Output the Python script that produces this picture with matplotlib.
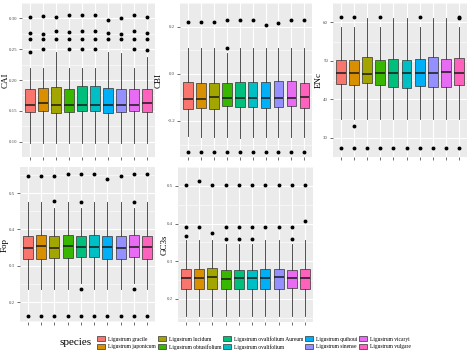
import matplotlib.pyplot as plt
from matplotlib.patches import Patch

species = ["Ligustrum gracile", "Ligustrum japonicum", "Ligustrum lucidum",
           "Ligustrum obtusifolium", "Ligustrum ovalifolium Aureum",
           "Ligustrum ovalifolium", "Ligustrum quihoui", "Ligustrum sinense",
           "Ligustrum vicaryi", "Ligustrum vulgare"]
colors = ["#F8766D", "#D89000", "#A3A500", "#39B600", "#00BF7D",
          "#00BFC4", "#00B0F6", "#9590FF", "#E76BF3", "#FF62BC"]

# ---- CAI
cai_q1 = [0.1486, 0.149, 0.147, 0.148, 0.1495, 0.1495, 0.147, 0.148, 0.1495, 0.148]
cai_med = [0.160, 0.162, 0.160, 0.160, 0.160, 0.160, 0.160, 0.160, 0.160, 0.162]
cai_q3 = [0.186, 0.187, 0.188, 0.186, 0.190, 0.190, 0.187, 0.186, 0.186, 0.186]
cai_lo = [0.098] * 10
cai_hi = [0.2195, 0.2195, 0.245, 0.2195, 0.2195, 0.2195, 0.245, 0.244, 0.2195, 0.237]
cai_out = [[0.303, 0.277, 0.266, 0.246], [0.304, 0.274, 0.266, 0.250],
           [0.303, 0.279, 0.266], [0.306, 0.278, 0.266, 0.250],
           [0.306, 0.279, 0.266, 0.251], [0.306, 0.279, 0.266, 0.251],
           [0.297, 0.276, 0.266], [0.300, 0.274, 0.266],
           [0.306, 0.279, 0.266, 0.251], [0.303, 0.277, 0.266, 0.2495]]

# ---- CBI
cbi_q1 = [-0.148, -0.145, -0.148, -0.137, -0.140, -0.140, -0.145, -0.139, -0.137, -0.144]
cbi_med = [-0.108, -0.106, -0.097, -0.103, -0.101, -0.101, -0.103, -0.103, -0.101, -0.098]
cbi_q3 = [-0.033, -0.041, -0.041, -0.041, -0.033, -0.033, -0.035, -0.030, -0.031, -0.037]
cbi_lo = [-0.264, -0.268, -0.268, -0.268, -0.272, -0.268, -0.268, -0.268, -0.268, -0.268]
cbi_hi = [0.108, 0.108, 0.108, 0.088, 0.108, 0.108, 0.108, 0.108, 0.108, 0.108]
cbi_out = [[0.220, -0.333], [0.221, -0.333], [0.221, -0.333],
           [0.108, 0.226, -0.333], [0.226, -0.333], [0.226, -0.333],
           [0.205, -0.333], [0.216, -0.333], [0.226, -0.333], [0.226, -0.333]]

# ---- ENc
enc_q1 = [43.9, 43.6, 44.3, 43.6, 43.2, 42.9, 43.4, 43.1, 43.2, 43.8]
enc_med = [46.8, 46.8, 46.5, 46.8, 46.9, 46.9, 46.8, 46.9, 47.2, 46.8]
enc_q3 = [50.3, 50.1, 50.9, 50.2, 50.5, 50.2, 50.5, 50.9, 50.5, 50.6]
enc_lo = [34.8] * 10
enc_hi = [58.7, 58.7, 61.0, 58.7, 61.0, 61.0, 58.7, 61.0, 61.0, 58.7]
enc_out = [[61.4, 27.3], [61.4, 33.0, 27.3], [27.3], [61.4, 27.3], [27.3],
           [27.3], [61.4, 27.3], [27.3], [27.3], [61.4, 61.0, 27.3]]

# ---- Fop
fop_q1 = [0.318, 0.318, 0.321, 0.321, 0.324, 0.3245, 0.320, 0.320, 0.325, 0.318]
fop_med = [0.348, 0.355, 0.350, 0.3545, 0.353, 0.353, 0.353, 0.350, 0.352, 0.353]
fop_q3 = [0.382, 0.384, 0.383, 0.384, 0.382, 0.386, 0.383, 0.382, 0.386, 0.382]
fop_lo = [0.237, 0.237, 0.237, 0.237, 0.253, 0.237, 0.237, 0.237, 0.253, 0.237]
fop_hi = [0.4745, 0.4745, 0.460, 0.4745, 0.460, 0.4745, 0.4745, 0.4745, 0.460, 0.4745]
fop_out = [[0.548, 0.163], [0.548, 0.163], [0.478, 0.548, 0.163], [0.551, 0.163],
           [0.475, 0.551, 0.236, 0.163], [0.551, 0.163], [0.539, 0.163],
           [0.547, 0.163], [0.475, 0.551, 0.237, 0.163], [0.551, 0.163]]

# ---- GC3s
gc3_q1 = [0.226, 0.226, 0.227, 0.227, 0.226, 0.226, 0.226, 0.226, 0.2275, 0.226]
gc3_med = [0.256, 0.256, 0.258, 0.252, 0.254, 0.256, 0.256, 0.257, 0.256, 0.256]
gc3_q3 = [0.279, 0.279, 0.282, 0.277, 0.276, 0.277, 0.280, 0.279, 0.277, 0.279]
gc3_lo = [0.153] * 10
gc3_hi = [0.355, 0.355, 0.356, 0.345, 0.345, 0.345, 0.355, 0.355, 0.345, 0.355]
gc3_out = [[0.502, 0.392, 0.366], [0.513, 0.392], [0.502, 0.374],
           [0.502, 0.392, 0.358], [0.502, 0.392, 0.358], [0.502, 0.392, 0.358],
           [0.502, 0.392], [0.502, 0.392], [0.502, 0.392, 0.358], [0.502, 0.408]]

panels = [
    ("CAI", cai_q1, cai_med, cai_q3, cai_lo, cai_hi, cai_out,
     (0.097, 0.316), [0.10, 0.15, 0.20, 0.25, 0.30], "%.2f"),
    ("CBI", cbi_q1, cbi_med, cbi_q3, cbi_lo, cbi_hi, cbi_out,
     (-0.353, 0.255), [-0.2, 0.0, 0.2], "%.1f"),
    ("ENc", enc_q1, enc_med, enc_q3, enc_lo, enc_hi, enc_out,
     (26.4, 62.8), [30, 40, 50, 60], "%d"),
    ("Fop", fop_q1, fop_med, fop_q3, fop_lo, fop_hi, fop_out,
     (0.146, 0.571), [0.2, 0.3, 0.4, 0.5], "%.1f"),
    ("GC3s", gc3_q1, gc3_med, gc3_q3, gc3_lo, gc3_hi, gc3_out,
     (0.138, 0.532), [0.2, 0.3, 0.4, 0.5], "%.1f"),
]

rects = [
    [0.0464, 0.565, 0.2806, 0.4266],
    [0.380, 0.565, 0.2785, 0.4266],
    [0.7025, 0.565, 0.2827, 0.4266],
    [0.042, 0.108, 0.285, 0.429],
    [0.3755, 0.108, 0.285, 0.429],
]
label_x = [-0.09, -0.13, -0.08, -0.08, -0.07]

plt.rcParams['font.family'] = ['Liberation Serif', 'DejaVu Serif']
fig = plt.figure(figsize=(4.74, 3.61), dpi=100)

for rect, lx, (name, q1, med, q3, lo, hi, out, ylim, ticks, fmt) in zip(rects, label_x, panels):
    ax = fig.add_axes(rect)
    ax.set_facecolor("#EBEBEB")
    stats = []
    for i in range(10):
        stats.append({"q1": q1[i], "med": med[i], "q3": q3[i],
                      "whislo": lo[i], "whishi": hi[i], "fliers": out[i]})
    pos = list(range(1, 11))
    b = ax.bxp(stats, positions=pos, widths=0.75, patch_artist=True,
               showcaps=False,
               boxprops=dict(edgecolor="#333333", linewidth=0.5),
               whiskerprops=dict(color="#333333", linewidth=0.6),
               medianprops=dict(color="#1a1a1a", linewidth=1.1),
               flierprops=dict(marker="o", markersize=1.8, markerfacecolor="black",
                               markeredgecolor="black", linestyle="none"))
    for patch, c in zip(b["boxes"], colors):
        patch.set_facecolor(c)
    for p in pos:
        ax.axvline(p, color="white", linewidth=0.8, zorder=0)
    ax.set_xlim(0.4, 10.6)
    ax.set_ylim(*ylim)
    ax.set_yticks(ticks)
    ax.set_yticklabels([fmt % t for t in ticks])
    step = ticks[1] - ticks[0]
    minor = [t - step / 2 for t in ticks] + [ticks[-1] + step / 2]
    ax.set_yticks(minor, minor=True)
    ax.grid(axis="y", which="major", color="white", linewidth=0.8, zorder=0)
    ax.grid(axis="y", which="minor", color="white", linewidth=0.4, zorder=0)
    ax.set_axisbelow(True)
    ax.set_xticks(pos)
    ax.set_xticklabels([])
    ax.tick_params(axis="both", which="major", length=2, width=0.5,
                   color="#333333", labelsize=3.5, labelcolor="#4D4D4D", pad=1.5)
    ax.tick_params(axis="y", which="minor", length=0)
    for s in ax.spines.values():
        s.set_visible(False)
    ax.set_ylabel(name, fontsize=6.5)
    ax.yaxis.set_label_coords(lx, 0.5)

handles = [Patch(facecolor=c, edgecolor="#333333", linewidth=0.5) for c in colors]
fig.legend(handles, species, loc="center left", bbox_to_anchor=(0.195, 0.05),
           ncol=5, frameon=False, fontsize=4, handlelength=1.4, handleheight=1.0,
           handletextpad=0.5, columnspacing=0.4, labelspacing=0.4)
fig.text(0.125, 0.05, "species", fontsize=8, va="center", ha="left")

plt.savefig("out.png", dpi=100)
